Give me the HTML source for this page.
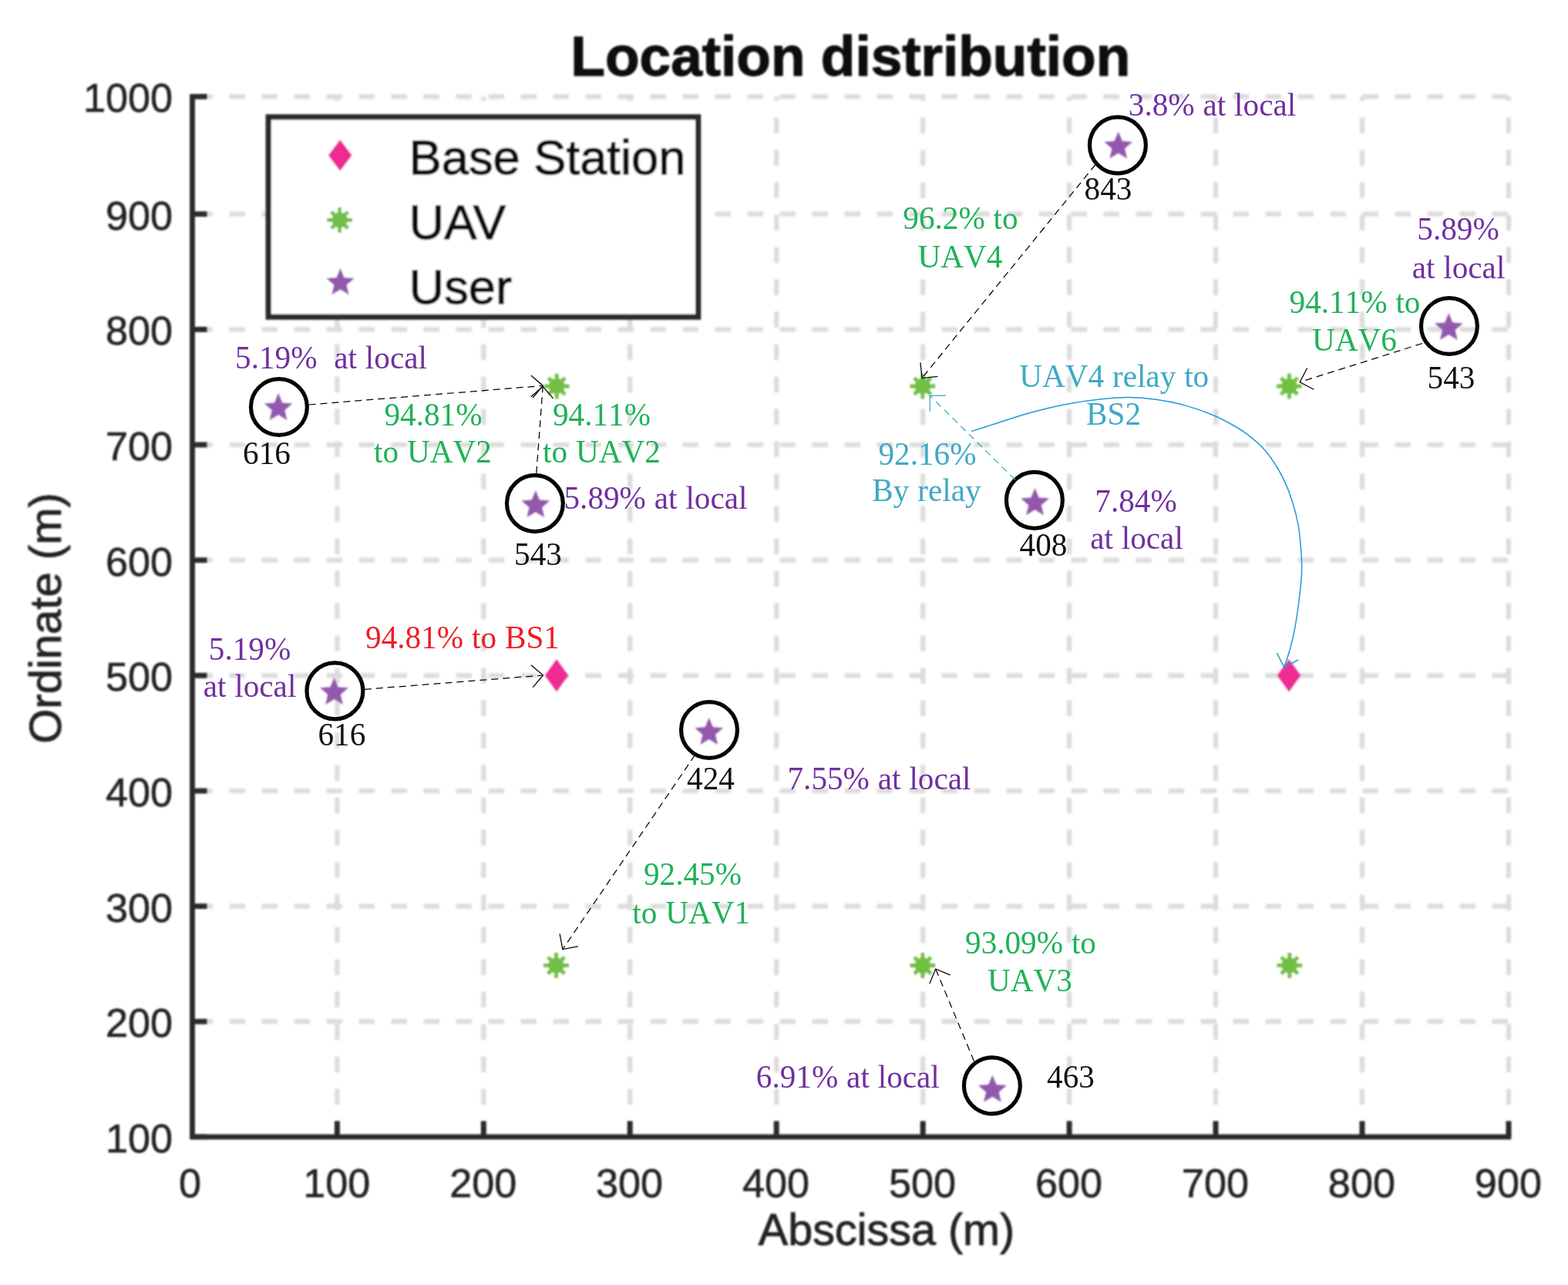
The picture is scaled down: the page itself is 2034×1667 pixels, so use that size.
<!DOCTYPE html>
<html lang="en"><head><meta charset="utf-8"><title>Location distribution</title>
<style>
html,body{margin:0;padding:0;background:#fff;}
body{width:2034px;height:1667px;overflow:hidden;}
svg{display:block;}
.sans{font-family:"Liberation Sans",sans-serif;}
.serif{font-family:"Liberation Serif",serif;font-kerning:none;font-variant-ligatures:none;white-space:pre;}
</style></head><body>
<svg width="2034" height="1667" viewBox="0 0 2034 1667" role="img" aria-label="Location distribution chart">
<defs><filter id="soft" x="-5%" y="-5%" width="110%" height="110%"><feGaussianBlur stdDeviation="0.9"/></filter><filter id="softg" x="-5%" y="-5%" width="110%" height="110%"><feGaussianBlur stdDeviation="1.5"/></filter></defs>
<rect x="0" y="0" width="2034" height="1667" fill="#ffffff"/>
<g filter="url(#softg)">
<g stroke="#dbdbdb" stroke-width="6.2" fill="none">
<line x1="255.5" y1="1325.2" x2="1957.0" y2="1325.2" stroke-dasharray="20.5 21.50"/>
<line x1="255.5" y1="1175.6" x2="1957.0" y2="1175.6" stroke-dasharray="20.5 21.50"/>
<line x1="255.5" y1="1026.0" x2="1957.0" y2="1026.0" stroke-dasharray="20.5 21.50"/>
<line x1="255.5" y1="876.3" x2="1957.0" y2="876.3" stroke-dasharray="20.5 21.50"/>
<line x1="255.5" y1="726.7" x2="1957.0" y2="726.7" stroke-dasharray="20.5 21.50"/>
<line x1="255.5" y1="577.0" x2="1957.0" y2="577.0" stroke-dasharray="20.5 21.50"/>
<line x1="255.5" y1="427.4" x2="1957.0" y2="427.4" stroke-dasharray="20.5 21.50"/>
<line x1="255.5" y1="277.7" x2="1957.0" y2="277.7" stroke-dasharray="20.5 21.50"/>
<line x1="255.5" y1="125.3" x2="1957.0" y2="125.3" stroke-dasharray="20.5 21.50"/>
<line x1="437.4" y1="1474.9" x2="437.4" y2="125.3" stroke-dasharray="20.5 21.50"/>
<line x1="627.3" y1="1474.9" x2="627.3" y2="125.3" stroke-dasharray="20.5 21.50"/>
<line x1="817.2" y1="1474.9" x2="817.2" y2="125.3" stroke-dasharray="20.5 21.50"/>
<line x1="1007.2" y1="1474.9" x2="1007.2" y2="125.3" stroke-dasharray="20.5 21.50"/>
<line x1="1197.2" y1="1474.9" x2="1197.2" y2="125.3" stroke-dasharray="20.5 21.50"/>
<line x1="1387.1" y1="1474.9" x2="1387.1" y2="125.3" stroke-dasharray="20.5 21.50"/>
<line x1="1577.0" y1="1474.9" x2="1577.0" y2="125.3" stroke-dasharray="20.5 21.50"/>
<line x1="1767.0" y1="1474.9" x2="1767.0" y2="125.3" stroke-dasharray="20.5 21.50"/>
<line x1="1957.0" y1="1474.9" x2="1957.0" y2="125.3" stroke-dasharray="20.5 21.50"/>
</g>
</g>
<g filter="url(#soft)">
<g stroke="#2b2b2b" stroke-width="6.8" fill="none" stroke-linecap="butt">
<path d="M249.5 122.1 V1474.9 H1960.2"/>
<line x1="249.5" y1="1474.9" x2="268.5" y2="1474.9"/>
<line x1="249.5" y1="1325.2" x2="268.5" y2="1325.2"/>
<line x1="249.5" y1="1175.6" x2="268.5" y2="1175.6"/>
<line x1="249.5" y1="1026.0" x2="268.5" y2="1026.0"/>
<line x1="249.5" y1="876.3" x2="268.5" y2="876.3"/>
<line x1="249.5" y1="726.7" x2="268.5" y2="726.7"/>
<line x1="249.5" y1="577.0" x2="268.5" y2="577.0"/>
<line x1="249.5" y1="427.4" x2="268.5" y2="427.4"/>
<line x1="249.5" y1="277.7" x2="268.5" y2="277.7"/>
<line x1="249.5" y1="125.3" x2="268.5" y2="125.3"/>
<line x1="437.4" y1="1474.9" x2="437.4" y2="1454.4"/>
<line x1="627.3" y1="1474.9" x2="627.3" y2="1454.4"/>
<line x1="817.2" y1="1474.9" x2="817.2" y2="1454.4"/>
<line x1="1007.2" y1="1474.9" x2="1007.2" y2="1454.4"/>
<line x1="1197.2" y1="1474.9" x2="1197.2" y2="1454.4"/>
<line x1="1387.1" y1="1474.9" x2="1387.1" y2="1454.4"/>
<line x1="1577.0" y1="1474.9" x2="1577.0" y2="1454.4"/>
<line x1="1767.0" y1="1474.9" x2="1767.0" y2="1454.4"/>
<line x1="1957.0" y1="1474.9" x2="1957.0" y2="1454.4"/>
</g>
<g class="sans" font-size="52.2" fill="#242424" stroke="#242424" stroke-width="0.6" stroke-linejoin="round">
<text x="224.0" y="1494.9" text-anchor="end">100</text>
<text x="224.0" y="1345.2" text-anchor="end">200</text>
<text x="224.0" y="1195.6" text-anchor="end">300</text>
<text x="224.0" y="1046.0" text-anchor="end">400</text>
<text x="224.0" y="896.3" text-anchor="end">500</text>
<text x="224.0" y="746.7" text-anchor="end">600</text>
<text x="224.0" y="597.0" text-anchor="end">700</text>
<text x="224.0" y="447.4" text-anchor="end">800</text>
<text x="224.0" y="297.7" text-anchor="end">900</text>
<text x="224.0" y="145.3" text-anchor="end">1000</text>
<text x="246.4" y="1552.6" text-anchor="middle">0</text>
<text x="436.8" y="1552.6" text-anchor="middle">100</text>
<text x="626.7" y="1552.6" text-anchor="middle">200</text>
<text x="816.6" y="1552.6" text-anchor="middle">300</text>
<text x="1006.6" y="1552.6" text-anchor="middle">400</text>
<text x="1196.6" y="1552.6" text-anchor="middle">500</text>
<text x="1386.5" y="1552.6" text-anchor="middle">600</text>
<text x="1576.5" y="1552.6" text-anchor="middle">700</text>
<text x="1766.4" y="1552.6" text-anchor="middle">800</text>
<text x="1956.4" y="1552.6" text-anchor="middle">900</text>
</g>
<text class="sans" font-size="57.5" fill="#242424" stroke="#242424" stroke-width="0.9" stroke-linejoin="round" x="1150" y="1615.1" text-anchor="middle">Abscissa (m)</text>
<text class="sans" font-size="58" fill="#242424" stroke="#242424" stroke-width="0.9" stroke-linejoin="round" transform="translate(78.8 802) rotate(-90)" text-anchor="middle">Ordinate (m)</text>
<text class="sans" font-size="73" font-weight="bold" fill="#111" stroke="#111" stroke-width="1.3" stroke-linejoin="round" x="1103.3" y="98.3" text-anchor="middle">Location distribution</text>
<path d="M722.0 855.3 L737.1 876.3 L722.0 897.3 L706.9 876.3 Z" fill="#ee2a93"/>
<path d="M1672.1 855.2 L1687.2 876.2 L1672.1 897.2 L1656.9 876.2 Z" fill="#ee2a93"/>
<g stroke="#72bf44" stroke-width="4.8" stroke-linecap="butt"><line x1="722.2" y1="484.6" x2="722.2" y2="517.4"/><line x1="733.0" y1="490.2" x2="711.4" y2="511.8"/><line x1="738.6" y1="501.0" x2="705.8" y2="501.0"/><line x1="733.0" y1="511.8" x2="711.4" y2="490.2"/><circle cx="722.2" cy="501.0" r="10.2" fill="#72bf44" stroke="none"/></g>
<g stroke="#72bf44" stroke-width="4.8" stroke-linecap="butt"><line x1="1196.8" y1="484.6" x2="1196.8" y2="517.4"/><line x1="1207.6" y1="490.2" x2="1186.0" y2="511.8"/><line x1="1213.2" y1="501.0" x2="1180.4" y2="501.0"/><line x1="1207.6" y1="511.8" x2="1186.0" y2="490.2"/><circle cx="1196.8" cy="501.0" r="10.2" fill="#72bf44" stroke="none"/></g>
<g stroke="#72bf44" stroke-width="4.8" stroke-linecap="butt"><line x1="1672.4" y1="484.6" x2="1672.4" y2="517.4"/><line x1="1683.2" y1="490.2" x2="1661.6" y2="511.8"/><line x1="1688.8" y1="501.0" x2="1656.0" y2="501.0"/><line x1="1683.2" y1="511.8" x2="1661.6" y2="490.2"/><circle cx="1672.4" cy="501.0" r="10.2" fill="#72bf44" stroke="none"/></g>
<g stroke="#72bf44" stroke-width="4.8" stroke-linecap="butt"><line x1="721.5" y1="1236.0" x2="721.5" y2="1268.8"/><line x1="732.3" y1="1241.6" x2="710.7" y2="1263.2"/><line x1="737.9" y1="1252.4" x2="705.1" y2="1252.4"/><line x1="732.3" y1="1263.2" x2="710.7" y2="1241.6"/><circle cx="721.5" cy="1252.4" r="10.2" fill="#72bf44" stroke="none"/></g>
<g stroke="#72bf44" stroke-width="4.8" stroke-linecap="butt"><line x1="1196.9" y1="1236.1" x2="1196.9" y2="1268.9"/><line x1="1207.7" y1="1241.7" x2="1186.1" y2="1263.3"/><line x1="1213.3" y1="1252.5" x2="1180.5" y2="1252.5"/><line x1="1207.7" y1="1263.3" x2="1186.1" y2="1241.7"/><circle cx="1196.9" cy="1252.5" r="10.2" fill="#72bf44" stroke="none"/></g>
<g stroke="#72bf44" stroke-width="4.8" stroke-linecap="butt"><line x1="1672.8" y1="1236.0" x2="1672.8" y2="1268.8"/><line x1="1683.6" y1="1241.6" x2="1662.0" y2="1263.2"/><line x1="1689.2" y1="1252.4" x2="1656.4" y2="1252.4"/><line x1="1683.6" y1="1263.2" x2="1662.0" y2="1241.6"/><circle cx="1672.8" cy="1252.4" r="10.2" fill="#72bf44" stroke="none"/></g>
<rect x="348.2" y="151.8" width="557.5" height="259.4" fill="#ffffff" stroke="#2a2a2a" stroke-width="7.2"/>
<path d="M441.2 181.0 L456.7 201.5 L441.2 222.0 L425.7 201.5 Z" fill="#ee2a93"/>
<g stroke="#72bf44" stroke-width="4.8" stroke-linecap="butt"><line x1="440.6" y1="269.1" x2="440.6" y2="301.9"/><line x1="451.4" y1="274.7" x2="429.8" y2="296.3"/><line x1="457.0" y1="285.5" x2="424.2" y2="285.5"/><line x1="451.4" y1="296.3" x2="429.8" y2="274.7"/><circle cx="440.6" cy="285.5" r="10.2" fill="#72bf44" stroke="none"/></g>
<polygon points="441.5,347.7 446.6,360.0 459.9,361.0 449.8,369.7 452.8,382.6 441.5,375.7 430.2,382.6 433.2,369.7 423.1,361.0 436.4,360.0" fill="#9358ae"/>
<g class="sans" font-size="63.3" fill="#101010" stroke="#101010" stroke-width="1.3" stroke-linejoin="round">
<text x="530.5" y="226">Base Station</text>
<text x="530.5" y="310">UAV</text>
<text x="530.5" y="394">User</text>
</g>
<polygon points="361.1,510.1 366.2,522.4 379.5,523.4 369.4,532.1 372.4,545.0 361.1,538.1 349.8,545.0 352.8,532.1 342.7,523.4 356.0,522.4" fill="#9358ae"/>
<polygon points="694.8,636.2 699.9,648.5 713.2,649.5 703.1,658.2 706.1,671.1 694.8,664.2 683.5,671.1 686.5,658.2 676.4,649.5 689.7,648.5" fill="#9358ae"/>
<polygon points="433.5,879.0 438.6,891.3 451.9,892.3 441.8,901.0 444.8,913.9 433.5,907.0 422.2,913.9 425.2,901.0 415.1,892.3 428.4,891.3" fill="#9358ae"/>
<polygon points="919.7,931.0 924.8,943.3 938.1,944.3 928.0,953.0 931.0,965.9 919.7,959.0 908.4,965.9 911.4,953.0 901.3,944.3 914.6,943.3" fill="#9358ae"/>
<polygon points="1450.7,170.7 1455.8,183.0 1469.1,184.0 1459.0,192.7 1462.0,205.6 1450.7,198.7 1439.4,205.6 1442.4,192.7 1432.3,184.0 1445.6,183.0" fill="#9358ae"/>
<polygon points="1879.3,406.1 1884.4,418.4 1897.7,419.4 1887.6,428.1 1890.6,441.0 1879.3,434.1 1868.0,441.0 1871.0,428.1 1860.9,419.4 1874.2,418.4" fill="#9358ae"/>
<polygon points="1342.5,633.3 1347.6,645.6 1360.9,646.6 1350.8,655.3 1353.8,668.2 1342.5,661.3 1331.2,668.2 1334.2,655.3 1324.1,646.6 1337.4,645.6" fill="#9358ae"/>
<polygon points="1287.4,1394.7 1292.5,1407.0 1305.8,1408.0 1295.7,1416.7 1298.7,1429.6 1287.4,1422.7 1276.1,1429.6 1279.1,1416.7 1269.0,1408.0 1282.3,1407.0" fill="#9358ae"/>
</g>
<g fill="none" stroke="#050505" stroke-width="5.2">
<circle cx="361.9" cy="528.0" r="36.45"/>
<circle cx="693.9" cy="653.1" r="36.45"/>
<circle cx="434.4" cy="896.4" r="36.45"/>
<circle cx="920.0" cy="947.0" r="36.45"/>
<circle cx="1449.9" cy="188.4" r="36.45"/>
<circle cx="1879.9" cy="423.0" r="36.45"/>
<circle cx="1341.9" cy="648.9" r="36.45"/>
<circle cx="1286.9" cy="1408.4" r="36.45"/>
</g>
<g stroke="#000" stroke-width="1.25" fill="none"><line x1="400.5" y1="525.0" x2="704.4" y2="500.4" stroke-dasharray="9 6"/><path d="M691.1 516.0 L704.4 500.4 L688.8 487.1"/></g>
<g stroke="#000" stroke-width="1.25" fill="none"><line x1="695.8" y1="614.0" x2="704.2" y2="501.4" stroke-dasharray="9 6"/><path d="M717.6 516.9 L704.2 501.4 L688.7 514.8"/></g>
<g stroke="#000" stroke-width="1.25" fill="none"><line x1="472.8" y1="894.3" x2="704.5" y2="876.0" stroke-dasharray="9 6"/><path d="M691.2 891.6 L704.5 876.0 L688.9 862.7"/></g>
<g stroke="#000" stroke-width="1.25" fill="none"><line x1="901.5" y1="979.5" x2="729.9" y2="1231.5" stroke-dasharray="9 6"/><path d="M726.1 1211.4 L729.9 1231.5 L750.0 1227.7"/></g>
<g stroke="#000" stroke-width="1.25" fill="none"><line x1="1421.0" y1="213.5" x2="1196.0" y2="490.5" stroke-dasharray="9 6"/><path d="M1193.9 470.1 L1196.0 490.5 L1216.4 488.4"/></g>
<g stroke="#000" stroke-width="1.25" fill="none"><line x1="1845.0" y1="445.5" x2="1686.2" y2="495.7" stroke-dasharray="9 6"/><path d="M1695.7 477.5 L1686.2 495.7 L1704.4 505.2"/></g>
<g stroke="#000" stroke-width="1.25" fill="none"><line x1="1263.5" y1="1376.5" x2="1213.7" y2="1257.0" stroke-dasharray="9 6"/><path d="M1232.7 1264.8 L1213.7 1257.0 L1205.9 1276.0"/></g>
<g stroke="#3fa9c6" stroke-width="1.25" fill="none"><line x1="1316.7" y1="622.2" x2="1206.2" y2="513.3" stroke-dasharray="9 6"/><path d="M1226.7 513.2 L1206.2 513.3 L1206.3 533.8"/></g>
<path d="M1260.1 559.6 C1264.6 558.1 1274.8 554.8 1287.2 550.9 C1299.6 547.0 1318.7 540.4 1334.4 536.0 C1350.1 531.6 1365.9 527.7 1381.6 524.7 C1397.3 521.7 1415.0 519.3 1428.8 517.8 C1442.6 516.3 1452.4 515.4 1464.2 515.5 C1476.0 515.6 1487.8 516.6 1499.6 518.3 C1511.4 519.9 1523.2 522.2 1535.0 525.4 C1546.8 528.5 1560.6 533.4 1570.4 537.2 C1580.2 541.1 1586.1 544.2 1594.0 548.5 C1601.9 552.8 1609.7 557.2 1617.6 563.2 C1625.5 569.2 1634.5 576.9 1641.2 584.4 C1647.9 591.9 1653.0 600.1 1657.7 608.0 C1662.4 615.9 1666.2 623.7 1669.5 631.6 C1672.8 639.5 1675.4 647.3 1677.8 655.2 C1680.2 663.1 1682.2 670.9 1683.7 678.8 C1685.2 686.7 1685.9 694.5 1686.7 702.4 C1687.5 710.3 1688.1 718.5 1688.4 726.0 C1688.7 733.5 1688.9 738.7 1688.3 747.6 C1687.7 756.5 1686.3 769.0 1685.0 779.6 C1683.7 790.2 1682.1 801.4 1680.3 811.5 C1678.5 821.6 1676.4 831.0 1674.0 840.0 C1671.6 849.0 1667.2 861.3 1665.9 865.6" fill="none" stroke="#1f9bd9" stroke-width="1.5"/>
<path d="M1656.4 847.2 L1665.9 865.8 L1684.0 856.0" fill="none" stroke="#1f9bd9" stroke-width="1.5"/>
<g class="serif" font-size="41.2" word-spacing="0.6" text-anchor="middle">
<text x="1572.5" y="150.0" fill="#7030a0">3.8% at local</text>
<text x="1437.5" y="259.2" fill="#111">843</text>
<text x="1246.0" y="297.0" fill="#1fb257">96.2% to</text>
<text x="1245.5" y="346.7" fill="#1fb257">UAV4</text>
<text x="1891.5" y="310.5" fill="#7030a0">5.89%</text>
<text x="1892.0" y="360.5" fill="#7030a0">at local</text>
<text x="1757.5" y="406.0" fill="#1fb257">94.11% to</text>
<text x="1757.0" y="455.4" fill="#1fb257">UAV6</text>
<text x="1882.5" y="503.6" fill="#111">543</text>
<text x="1445.2" y="502.0" fill="#3fa9c6">UAV4 relay to</text>
<text x="1444.6" y="550.9" fill="#3fa9c6">BS2</text>
<text x="429.5" y="477.6" fill="#7030a0" xml:space="preserve" style="white-space:pre">5.19%  at local</text>
<text x="562.0" y="551.5" fill="#1fb257">94.81%</text>
<text x="561.5" y="600.3" fill="#1fb257">to UAV2</text>
<text x="780.5" y="551.5" fill="#1fb257">94.11%</text>
<text x="780.5" y="600.3" fill="#1fb257">to UAV2</text>
<text x="346.0" y="601.6" fill="#111">616</text>
<text x="850.5" y="660.0" fill="#7030a0">5.89% at local</text>
<text x="698.0" y="732.5" fill="#111">543</text>
<text x="1203.0" y="603.0" fill="#3fa9c6">92.16%</text>
<text x="1202.0" y="650.0" fill="#3fa9c6">By relay</text>
<text x="1473.5" y="664.0" fill="#7030a0">7.84%</text>
<text x="1474.5" y="712.0" fill="#7030a0">at local</text>
<text x="1353.5" y="720.5" fill="#111">408</text>
<text x="600.0" y="841.3" fill="#ee1c25">94.81% to BS1</text>
<text x="324.0" y="856.0" fill="#7030a0">5.19%</text>
<text x="324.0" y="904.3" fill="#7030a0">at local</text>
<text x="443.4" y="967.2" fill="#111">616</text>
<text x="922.0" y="1024.0" fill="#111">424</text>
<text x="1140.5" y="1024.0" fill="#7030a0">7.55% at local</text>
<text x="898.5" y="1148.0" fill="#1fb257">92.45%</text>
<text x="896.7" y="1198.4" fill="#1fb257">to UAV1</text>
<text x="1337.0" y="1237.0" fill="#1fb257">93.09% to</text>
<text x="1336.0" y="1285.6" fill="#1fb257">UAV3</text>
<text x="1099.8" y="1410.5" fill="#7030a0">6.91% at local</text>
<text x="1389.0" y="1410.5" fill="#111">463</text>
</g>
</svg>
</body></html>
